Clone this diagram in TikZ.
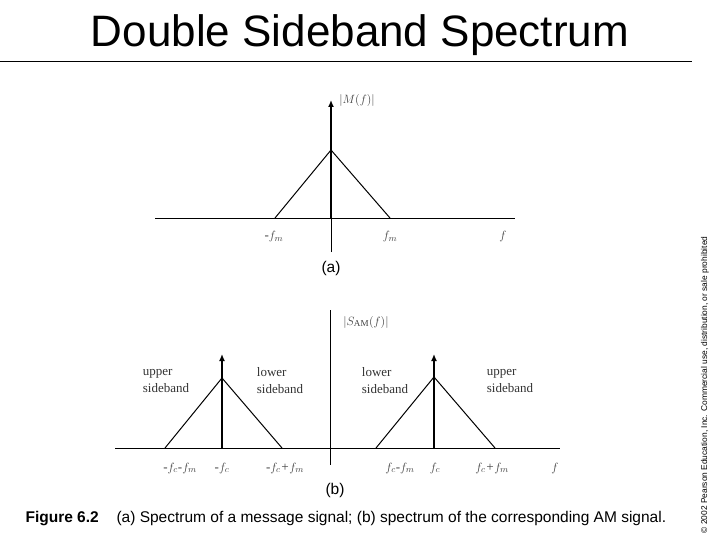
\documentclass[tikz,border=0pt]{standalone}
\usepackage{fontspec}
\usetikzlibrary{arrows.meta}
\setmainfont{Liberation Serif}
\newfontfamily\arial{Liberation Sans}
\begin{document}
\begin{tikzpicture}[x=1pt,y=-1pt,
  ax/.style={line width=0.8pt},
  tri/.style={line width=1pt},
  imp/.style={line width=1.6pt,-{Latex[length=7pt,width=6pt]}},
  lab/.style={font=\itshape\fontsize{13}{14}\selectfont,text=black!75},
  sb/.style={font=\fontsize{13}{17}\selectfont,align=left,text=black!80},
  captxt/.style={font=\arial\fontsize{15.5}{17}\selectfont}]
\useasboundingbox (0,0) rectangle (720,540);
\node[font=\arial\fontsize{44}{48}\selectfont,anchor=base] (title) at (360,47) {Double Sideband Spectrum};
\draw[line width=1pt] (0,62) -- (692,62);
\node[rotate=90,font=\arial\fontsize{8.4}{9}\selectfont] (copy) at (705,385) {\copyright\ 2002 Pearson Education, Inc. Commercial use, distribution, or sale prohibited};
% (a)
\coordinate (al) at (155,218); \coordinate (ar) at (515,218);
\coordinate (a0) at (331,218); \coordinate (ab) at (331,252);
\coordinate (atop) at (331,100);
\coordinate (ap) at (331,150); \coordinate (am) at (275,218); \coordinate (aM) at (390,218);
\draw[ax] (al) -- (ar);
\draw[ax] (ab) -- (a0);
\draw[imp] (a0) -- (atop);
\draw[tri] (am) -- (ap) -- (aM);
\node[lab] (Mf) at (357,101) {$|M(f)|$};
\node[lab] (lm) at (274,237) {-$f_m$};
\node[lab] (lM) at (390,237) {$f_m$};
\node[lab] (lf) at (503,237) {$f$};
\node[captxt] (la) at (331,268) {(a)};
% (b)
\coordinate (bl) at (115,448); \coordinate (br) at (560,448);
\coordinate (bt) at (330,310); \coordinate (bb) at (330,465);
\draw[ax] (bl) -- (br);
\draw[ax] (bt) -- (bb);
\coordinate (l0) at (222,448); \coordinate (lt) at (222,354); \coordinate (lp) at (222,378);
\coordinate (r0) at (434,448); \coordinate (rt) at (434,354); \coordinate (rp) at (434,377);
\draw[imp] (l0) -- (lt);
\draw[imp] (r0) -- (rt);
\draw[tri] (165,448) -- (lp) -- (282,448);
\draw[tri] (376,448) -- (rp) -- (495,448);
\node[lab] (S) at (366,322) {$|S_{\mathrm{AM}}(f)|$};
\node[sb] (u1) at (166,381) {upper\\sideband};
\node[sb] (w1) at (280,381) {lower\\sideband};
\node[sb] (w2) at (385,381) {lower\\sideband};
\node[sb] (u2) at (510,381) {upper\\sideband};
\node[lab] (t1) at (180,468) {-$f_c$-$f_m$};
\node[lab] (t2) at (222,468) {-$f_c$};
\node[lab] (t3) at (285,468) {-$f_c$+$f_m$};
\node[lab] (t4) at (400,468) {$f_c$-$f_m$};
\node[lab] (t5) at (435,468) {$f_c$};
\node[lab] (t6) at (492,468) {$f_c$+$f_m$};
\node[lab] (t7) at (555,468) {$f$};
\node[captxt] (lb) at (335,490) {(b)};
\node[captxt,anchor=base west] (fig) at (22,522) {\bfseries Figure 6.2};
\node[captxt,anchor=base west] (ct) at (113,522) {(a) Spectrum of a message signal; (b) spectrum of the corresponding AM signal.};
\end{tikzpicture}
\end{document}
